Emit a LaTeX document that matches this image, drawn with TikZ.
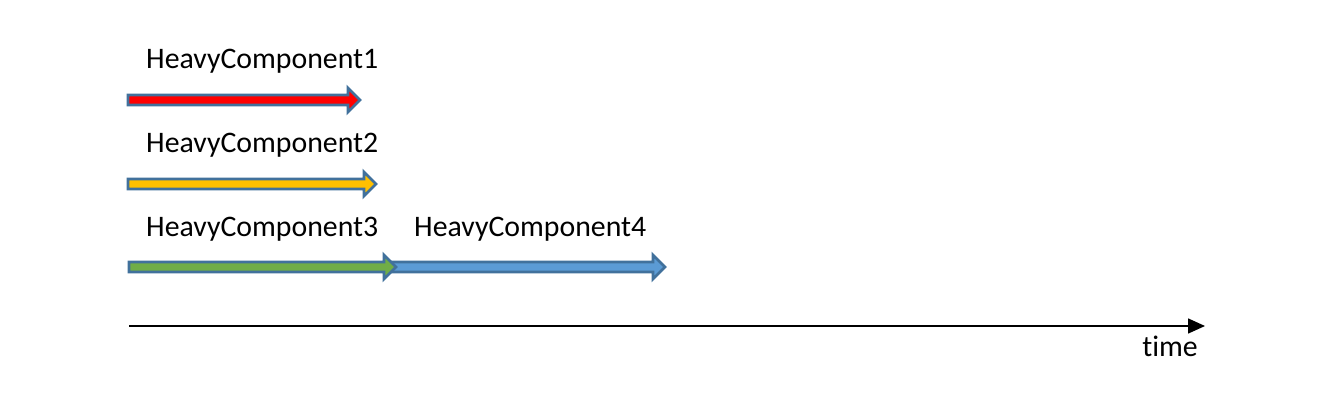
\documentclass[tikz,border=0pt]{standalone}
\usepackage{fontspec}
\setmainfont{Carlito}[Ligatures={NoCommon,NoRare}]
\usetikzlibrary{arrows.meta,positioning}
\definecolor{EdgeBlue}{RGB}{65,113,156}
\definecolor{BarRed}{RGB}{255,0,0}
\definecolor{BarGold}{RGB}{255,192,0}
\definecolor{BarGreen}{RGB}{112,173,71}
\definecolor{BarBlue}{RGB}{91,155,213}

% block arrow: start x, tip x, centre y, fill colour
\newcommand{\blockarrow}[4]{%
  \draw[blockedge,fill=#4] (#1,#3-5) -- (#2-12,#3-5) -- (#2-12,#3-12) -- (#2,#3)
    -- (#2-12,#3+12) -- (#2-12,#3+5) -- (#1,#3+5) -- cycle;}

\begin{document}
\begin{tikzpicture}[x=1pt,y=-1pt,
    blockedge/.style={draw=EdgeBlue,line width=2.7pt,line join=miter},
    lbl/.style={inner sep=0pt,anchor=base west,font=\fontsize{29.8}{34}\selectfont}]
  \useasboundingbox (0,0) rectangle (1331,401);
  % labels
  \node[lbl] (hc1) at (146,69) {HeavyComponent1};
  \node[lbl] (hc2) at (146,153) {HeavyComponent2};
  \node[lbl] (hc3) at (146,236) {HeavyComponent3};
  \node[lbl] (hc4) at (414,236) {HeavyComponent4};
  % bars
  \blockarrow{128}{360}{100}{BarRed}
  \blockarrow{128}{376}{184}{BarGold}
  \blockarrow{390}{665}{267}{BarBlue}
  \blockarrow{129}{396}{267}{BarGreen}
  % time axis
  \coordinate (t0) at (129,326);
  \coordinate (t1) at (1205,326);
  \draw[line width=1.5pt,-{Triangle[length=17pt,width=15pt]}] (t0) -- (t1);
  \node[lbl,anchor=base east] (tm) at (1198,356) {time};
\end{tikzpicture}
\end{document}
